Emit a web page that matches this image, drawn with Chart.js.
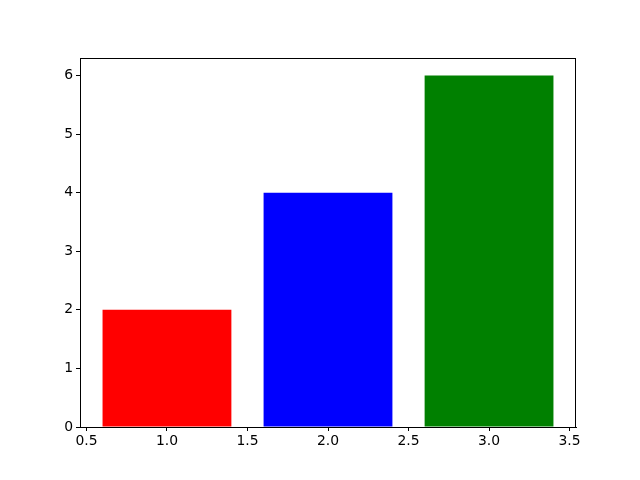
<!DOCTYPE html>
<html>
<head>
<meta charset="utf-8">
<script src="https://cdn.jsdelivr.net/npm/chart.js@4"></script>
<style>
  html, body { margin: 0; padding: 0; background: #fff; }
  canvas { display: block; }
</style>
</head>
<body>
<canvas id="chart" width="640" height="480"></canvas>
<script>
// data
const xPositions = [1, 2, 3];
const heights = [2, 4, 6];
const barColors = ['#ff0000', '#0000ff', '#008000'];
const xTicks = [0.5, 1.0, 1.5, 2.0, 2.5, 3.0, 3.5];
const yTicks = [0, 1, 2, 3, 4, 5, 6];

const font = { family: 'DejaVu Sans', size: 13.9 };

// axes frame on all four sides, like matplotlib
const framePlugin = {
    id: 'frame',
    afterDraw(chart) {
        const a = chart.chartArea;
        const ctx = chart.ctx;
        ctx.save();
        ctx.strokeStyle = '#000';
        ctx.lineWidth = 1;
        ctx.strokeRect(Math.round(a.left) + 0.5, Math.round(a.top) + 0.5,
            Math.round(a.right - a.left) - 1, Math.round(a.bottom - a.top));
        ctx.restore();
    }
};

new Chart(document.getElementById('chart').getContext('2d'), {
    type: 'bar',
    data: {
        datasets: [{
            data: xPositions.map((x, i) => ({ x: x, y: heights[i] })),
            backgroundColor: barColors,
            borderWidth: 0,
            // min sample spacing is the 0.5 tick step, so 1.6 * 0.5 = 0.8 wide bars
            categoryPercentage: 1.0,
            barPercentage: 1.6
        }]
    },
    options: {
        responsive: false,
        animation: false,
        devicePixelRatio: 1,
        layout: { padding: { top: 58, right: 64, left: 0, bottom: 0 } },
        plugins: {
            legend: { display: false },
            tooltip: { enabled: false }
        },
        scales: {
            x: {
                type: 'linear',
                min: 0.46,
                max: 3.54,
                offset: false,
                grid: { display: true, drawOnChartArea: false, drawTicks: true, tickLength: 4, color: '#000', offset: false },
                border: { display: true, color: '#000' },
                ticks: {
                    color: '#000',
                    font: font,
                    padding: 2,
                    maxRotation: 0,
                    autoSkip: false,
                    callback: v => v.toFixed(1)
                },
                afterBuildTicks: scale => { scale.ticks = xTicks.map(v => ({ value: v })); },
                afterFit: scale => { scale.height = 53; }
            },
            y: {
                type: 'linear',
                min: 0,
                max: 6.3,
                grid: { display: true, drawOnChartArea: false, drawTicks: true, tickLength: 4, color: '#000' },
                border: { display: true, color: '#000' },
                ticks: {
                    color: '#000',
                    font: font,
                    padding: 3,
                    autoSkip: false,
                    callback: v => String(v)
                },
                afterBuildTicks: scale => { scale.ticks = yTicks.map(v => ({ value: v })); },
                afterFit: scale => { scale.width = 80; }
            }
        }
    },
    plugins: [framePlugin]
});
</script>
</body>
</html>
